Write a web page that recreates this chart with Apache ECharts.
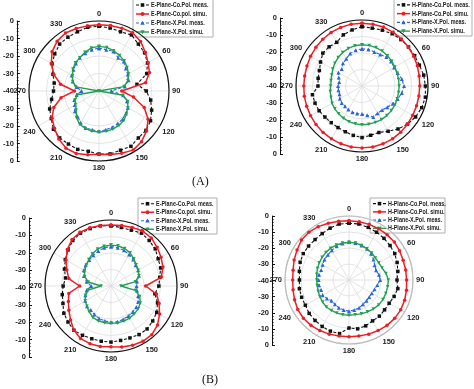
<!DOCTYPE html>
<html><head><meta charset="utf-8">
<script src="https://cdn.jsdelivr.net/npm/echarts@6/dist/echarts.min.js"></script>
<style>html,body{margin:0;padding:0;background:#fff}#c{width:474px;height:389px}</style>
</head><body><div id="c"></div>
<script>
// ---- data ----
const angles = [0,10,20,30,40,50,60,70,80,90,100,110,120,130,140,150,160,170,180,190,200,210,220,230,240,250,260,270,280,290,300,310,320,330,340,350];
const angleTicks = [0,30,60,90,120,150,180,210,240,270,300,330];
const hiddenAngleTicks = [30];
const radialTicks = [-40,-30,-20,-10,0];

const namesE = ['E-Plane-Co.Pol. meas.','E-Plane-Co.pol. simu.','E-Plane-X.Pol. meas.','E-Plane-X.Pol. simu.'];
const namesH = ['H-Plane-Co.Pol. meas.','H-Plane-Co.Pol. simu.','H-Plane-X.Pol. meas.','H-Plane-X.Pol. simu.'];

// (A) E-plane
const aE_coMeas = [-3,-3.5,-4,-3,-5,-6,-8,-11,-18,-13,-10,-8,-6,-5,-5,-3.5,-4,-3.5,-4,-5,-4.5,-5,-5,-6,-8.5,-10,-12.5,-14,-14,-12,-9,-7,-5,-4.5,-4,-3];
const aE_coSimu = [-2.1,-2,-1.8,-1.6,-3,-5.5,-7.6,-9.3,-13,-27,-20,-12.5,-7.6,-4.5,-2.2,-1,-2.2,-3.2,-3.8,-3,-2,-2.3,-4.2,-6.8,-9,-12.5,-18,-26,-17.7,-12.6,-8.5,-5,-2.8,-1.7,-2,-2.2];
const aE_xMeas = [-15.5,-16,-16,-18,-18,-20,-21,-22,-25,-33,-26,-23,-21,-20,-19,-18.5,-18,-17.5,-17,-17.5,-17.5,-19,-21,-22,-24,-25,-27,-30,-27,-24,-22,-21,-19.5,-18,-17,-16];
const aE_xSimu = [-14.5,-14.7,-15.5,-16.5,-17.5,-19,-20.5,-22.5,-25.5,-40,-26,-22.5,-21,-19.5,-18,-17.3,-16.8,-16.6,-16.6,-16.7,-17.2,-18,-20,-23,-24.5,-25.5,-27.5,-40,-26.5,-24,-22.5,-20.5,-19,-18,-16.5,-15];
// (A) H-plane
const aH_coMeas = [-4,-4.4,-4,-3.4,-3.3,-3.2,-3.2,-3,-2,-1.6,-1,-1.5,-2.5,-4,-6,-8.3,-10,-9.7,-8.7,-9.6,-10.5,-10.9,-11,-10.7,-10,-9.7,-9.5,-13.3,-13,-12.5,-11,-9,-9,-9.4,-7,-5.5];
const aH_coSimu = [-2,-2,-2,-2.3,-2.8,-3.3,-3.8,-4.3,-4.8,-5,-5,-4.8,-4.5,-4,-3.5,-3,-2.7,-2.5,-2.5,-2.5,-2.7,-3,-3.3,-3.6,-4,-4.3,-4.5,-4.7,-4.7,-4.5,-4,-3.5,-3,-2.5,-2.2,-2];
const aH_xMeas = [-17.5,-17.5,-18,-18,-17,-17,-17.5,-17,-15.5,-14.5,-15.5,-17,-18.5,-20,-21,-21,-20,-22,-23,-23,-23,-23.5,-24,-24,-24.5,-25.5,-25.5,-25.5,-26,-25,-23.5,-24,-22,-21,-19,-18];
const aH_xSimu = [-15,-15,-15.2,-15.5,-16,-16.5,-17,-17.3,-17.5,-17.5,-17.5,-17.3,-17,-16.8,-16.6,-16.5,-16.5,-16.5,-16.5,-16.7,-17,-17.5,-18,-18.5,-19,-20,-20.5,-21,-21,-20.5,-19.5,-18.5,-17.5,-16.5,-15.8,-15.2];
// (B) E-plane
const bE_coMeas = [-3.5,-4,-4,-3,-4,-5,-7,-8,-10,-11,-13,-10,-8,-7,-6,-6,-6.5,-6.5,-6,-6,-6,-5.5,-5,-6,-7,-9,-10,-11,-12,-10,-8,-6,-4,-3,-3,-3];
const bE_coSimu = [-3,-2.7,-2.2,-1.5,-2,-3.5,-5,-6.5,-9,-19,-12,-9,-6,-3.2,-1.5,-1.3,-1.8,-2.5,-3.2,-2.8,-2.8,-3.2,-5,-8,-10.5,-12.5,-14,-21,-14,-11.5,-8.5,-5.5,-3.2,-2.4,-2.5,-2.8];
const bE_xMeas = [-16,-16.5,-17,-18,-19,-20.5,-21,-22,-24,-24.5,-24,-22.5,-21,-20,-19.5,-19,-18.5,-18,-18,-18.5,-19,-20,-21,-21,-22,-23.5,-25,-28,-25,-22.5,-21,-20,-19.5,-18.5,-17.5,-16.5];
const bE_xSimu = [-15.2,-15.3,-15.8,-16.8,-18.5,-20,-21,-22,-25,-34,-25,-21.5,-19.5,-18.5,-18,-17.5,-17.3,-17.3,-17.4,-17.4,-17.5,-18,-19.5,-21,-22,-23.5,-26,-34,-26,-23,-21.5,-20.5,-19,-17.5,-16.2,-15.5];
// (B) H-plane
const bH_coMeas = [-4.5,-4.5,-5,-5.5,-6,-6.5,-7,-8,-9,-10,-9,-10,-11,-11,-10.5,-10.5,-9.5,-9,-10,-6,-6,-6.5,-7,-7.5,-8.5,-8.5,-8.5,-9,-8.5,-7.5,-7,-7,-7,-6.5,-5.5,-4.5];
const bH_coSimu = [-3,-3,-3,-3,-3,-3,-3.5,-4,-4,-4,-3.5,-3,-2.7,-2.7,-3,-3.5,-4,-4.5,-4.6,-4.5,-4,-3.5,-3,-2.8,-3,-3.8,-4.5,-4.8,-4.5,-3.5,-2.5,-1.2,-1,-1.5,-2.2,-2.7];
const bH_xMeas = [-16.3,-16.5,-17,-17.5,-18.5,-20,-21.5,-22,-21,-20.5,-22,-23,-23.5,-23.5,-23,-22.5,-21.5,-21,-20.5,-21,-21.5,-22.5,-23,-22,-21,-21.5,-21,-21,-21,-21.5,-21,-20,-19.5,-18.5,-17.5,-16.8];
const bH_xSimu = [-16.5,-16.5,-17,-17.5,-18,-18.5,-18.5,-18,-16.5,-15.4,-15.5,-15.5,-15.5,-15.8,-16.3,-17,-17.5,-18,-18,-18,-18,-18,-18,-18.5,-19,-19.5,-19.8,-19.8,-19.5,-19,-18.5,-18,-17.5,-17,-16.8,-16.5];

// ---- layout / styles ----
const panels = [
  {center:[99,91], r:70, ax:{left:16, top:21, h:140}, lg:{x:133, y:-1, w:80, h:38}, ring:'#111', names:namesE, data:[aE_coMeas,aE_coSimu,aE_xMeas,aE_xSimu]},
  {center:[362,86], r:66, ax:{left:280, top:18, h:136}, lg:{x:394, y:-1, w:78, h:37}, ring:'#111', names:namesH, data:[aH_coMeas,aH_coSimu,aH_xMeas,aH_xSimu]},
  {center:[111,286], r:66, ax:{left:29, top:218, h:139}, lg:{x:138, y:198, w:79, h:36}, ring:'#111', names:namesE, data:[bE_coMeas,bE_coSimu,bE_xMeas,bE_xSimu]},
  {center:[349,280], r:64, ax:{left:272, top:216, h:129}, lg:{x:370, y:198, w:75, h:35}, ring:'#bbb', names:namesH, data:[bH_coMeas,bH_coSimu,bH_xMeas,bH_xSimu]}
];
const styles = [
  {color:'#111', type:[3,2], width:1.1, symbol:'rect', size:3.5, rot:0},
  {color:'#ee1c24', type:'solid', width:1.5, symbol:'circle', size:3.5, rot:0},
  {color:'#2a66d8', type:[3,2], width:1.1, symbol:'triangle', size:4, rot:0},
  {color:'#23a050', type:'solid', width:1.4, symbol:'triangle', size:3.5, rot:180}
];
const FONT = 'Liberation Sans';

function legendSymbol(s, cx, cy) {
  if (s.symbol === 'rect') return {type:'rect', shape:{x:cx-1.8, y:cy-1.8, width:3.6, height:3.6}, style:{fill:s.color}};
  if (s.symbol === 'circle') return {type:'circle', shape:{cx:cx, cy:cy, r:1.9}, style:{fill:s.color}};
  const h = 2.2, dir = s.rot === 180 ? -1 : 1;
  return {type:'polygon', shape:{points:[[cx, cy - dir*h], [cx - h, cy + dir*h*0.8], [cx + h, cy + dir*h*0.8]]}, style:{fill:s.color}};
}

function buildLegend(p) {
  const children = [{type:'rect', shape:{x:0, y:0, width:p.lg.w, height:p.lg.h},
    style:{fill:'#fff', stroke:'#999', lineWidth:0.8}}];
  const rowH = (p.lg.h - 2) / 4;
  p.names.forEach((nm, k) => {
    const s = styles[k];
    const cy = 1 + rowH * (k + 0.5) + 0.5;
    children.push({type:'line', shape:{x1:3, y1:cy, x2:16, y2:cy},
      style:{stroke:s.color, lineWidth:s.width, lineDash: Array.isArray(s.type) ? s.type : null}});
    children.push(legendSymbol(s, 9.5, cy));
    children.push({type:'text', x:18, y:cy, scaleX:0.8,
      style:{text:nm, x:0, y:0, verticalAlign:'middle', align:'left',
        font:'bold 6.8px "Liberation Sans"', fill:'#222'}});
  });
  return {type:'group', x:p.lg.x, y:p.lg.y, z:100, children:children};
}

const option = {
  animation:false,
  backgroundColor:'#fff',
  polar:[], angleAxis:[], radiusAxis:[], grid:[], xAxis:[], yAxis:[], series:[],
  graphic:[
    {type:'text', left:192, top:176, style:{text:'(A)', font:'12px "Liberation Serif"', fill:'#111'}},
    {type:'text', left:202, top:374, style:{text:'(B)', font:'12px "Liberation Serif"', fill:'#111'}}
  ]
};

panels.forEach((p, i) => {
  option.polar.push({center:p.center, radius:p.r});
  option.angleAxis.push({
    polarIndex:i, type:'value', min:0, max:360, interval:30, startAngle:90, clockwise:true,
    axisLine:{show:true, lineStyle:{color:p.ring, width:1.2}},
    axisTick:{show:false},
    axisLabel:{margin:3, fontSize:7.5, fontWeight:'bold', fontFamily:FONT, color:'#222',
      formatter:v => (angleTicks.includes(v) && !hiddenAngleTicks.includes(v)) ? String(v) : ''},
    splitLine:{show:true, lineStyle:{color:'#dcdcdc', width:0.8}}
  });
  option.radiusAxis.push({
    polarIndex:i, type:'value', min:radialTicks[0], max:radialTicks[radialTicks.length-1], interval:10,
    axisLine:{show:false}, axisTick:{show:false}, axisLabel:{show:false},
    splitLine:{show:true, lineStyle:{color:'#dcdcdc', width:0.8}}
  });
  option.grid.push({left:p.ax.left, top:p.ax.top, width:4, height:p.ax.h, show:false});
  option.xAxis.push({gridIndex:i, type:'value', show:false});
  option.yAxis.push({
    gridIndex:i, type:'value', min:-40, max:40, interval:10, position:'left',
    axisLine:{show:true, lineStyle:{color:'#111', width:1}},
    axisTick:{show:true, inside:true, length:3, lineStyle:{color:'#111'}},
    minorTick:{show:true, splitNumber:5, length:1.6, lineStyle:{color:'#111'}},
    splitLine:{show:false},
    axisLabel:{margin:3, fontSize:7.5, fontWeight:'bold', fontFamily:FONT, color:'#222',
      formatter:v => String(Math.abs(v) - 40)}
  });
  option.graphic.push(buildLegend(p));
  p.data.forEach((vals, k) => {
    const s = styles[k];
    const d = vals.map((v, j) => [v, angles[j]]);
    d.push([vals[0], 360]);
    option.series.push({
      type:'line', coordinateSystem:'polar', polarIndex:i, name:p.names[k],
      data:d, symbol:s.symbol, symbolSize:s.size, symbolRotate:s.rot, showSymbol:true,
      lineStyle:{color:s.color, type:s.type, width:s.width},
      itemStyle:{color:s.color}, z:3+k
    });
  });
});

const chart = echarts.init(document.getElementById('c'), null, {renderer:'canvas'});
chart.setOption(option);
</script>
</body></html>
